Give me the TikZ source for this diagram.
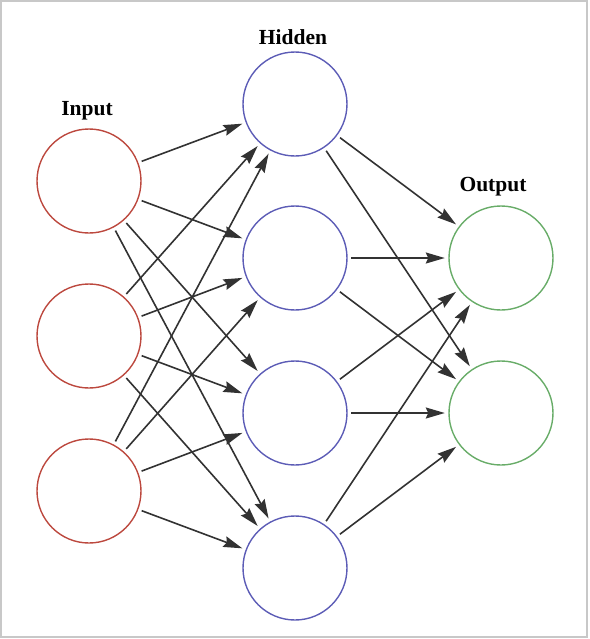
\documentclass[tikz,border=0pt]{standalone}
\usepackage{fontspec}
\setmainfont{Liberation Serif}
\usetikzlibrary{arrows.meta}
\definecolor{inred}{RGB}{188,72,62}
\definecolor{hidblue}{RGB}{92,92,182}
\definecolor{outgreen}{RGB}{104,172,104}
\definecolor{linkgray}{RGB}{50,50,50}
\definecolor{framegray}{RGB}{200,200,200}

\begin{document}
\begin{tikzpicture}[x=0.5pt, y=-0.5pt,
            neuron/.style={circle, draw, line width=0.7pt, minimum size=52pt, inner sep=0pt, outer sep=2.1pt},
            link/.style={-{Stealth[length=9.5pt, width=5.5pt, inset=1.2pt]}, draw=linkgray, line width=0.8pt},
            layer label/.style={anchor=base, font=\fontsize{10.75}{13}\selectfont\bfseries}
            ]
            \useasboundingbox (0, 0) rectangle (590, 639);
            \draw[framegray, line width=0.7pt] (1, 1) rectangle (587, 637);

            \node[neuron, draw=inred] (I1) at (89, 181) {};
            \node[neuron, draw=inred] (I2) at (89, 336) {};
            \node[neuron, draw=inred] (I3) at (89, 491) {};

            \node[neuron, draw=hidblue] (H1) at (295, 104) {};
            \node[neuron, draw=hidblue] (H2) at (295, 258) {};
            \node[neuron, draw=hidblue] (H3) at (295, 413) {};
            \node[neuron, draw=hidblue] (H4) at (295, 568) {};

            \node[neuron, draw=outgreen] (O1) at (501, 258) {};
            \node[neuron, draw=outgreen] (O2) at (501, 413) {};

            \draw[link] (I1) -- (H1);
            \draw[link] (I1) -- (H2);
            \draw[link] (I1) -- (H3);
            \draw[link] (I1) -- (H4);
            \draw[link] (I2) -- (H1);
            \draw[link] (I2) -- (H2);
            \draw[link] (I2) -- (H3);
            \draw[link] (I2) -- (H4);
            \draw[link] (I3) -- (H1);
            \draw[link] (I3) -- (H2);
            \draw[link] (I3) -- (H3);
            \draw[link] (I3) -- (H4);

            \draw[link] (H1) -- (O1);
            \draw[link] (H1) -- (O2);
            \draw[link] (H2) -- (O1);
            \draw[link] (H2) -- (O2);
            \draw[link] (H3) -- (O1);
            \draw[link] (H3) -- (O2);
            \draw[link] (H4) -- (O1);
            \draw[link] (H4) -- (O2);

            \node[layer label] (Linput) at (87, 115) {Input};
            \node[layer label] (Lhidden) at (293, 44) {Hidden};
            \node[layer label] (Loutput) at (493, 191) {Output};
        \end{tikzpicture}
\end{document}
